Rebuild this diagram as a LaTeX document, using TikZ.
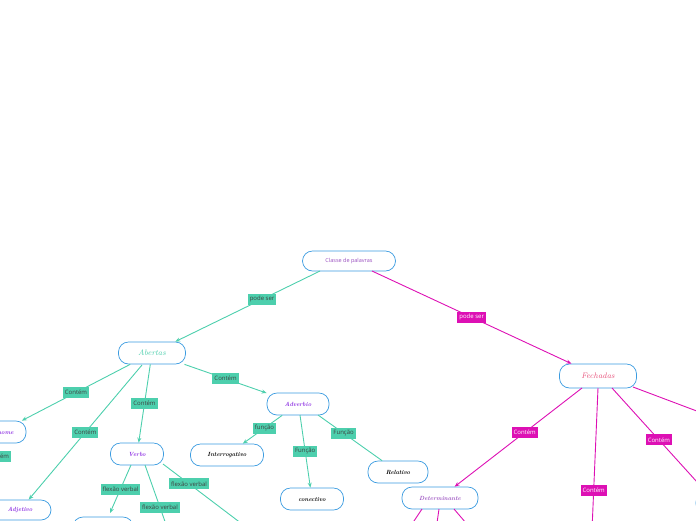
\documentclass[tikz,border=0pt]{standalone}
\usepackage{fontspec}
\setsansfont{Open Sans}
\usetikzlibrary{arrows.meta}
\definecolor{gr}{HTML}{4DCFAD}
\definecolor{mg}{HTML}{DD10B4}
\definecolor{bl}{HTML}{3A9BE0}
\definecolor{pu}{HTML}{9A4FC0}
\definecolor{vi}{HTML}{8A2BE2}
\definecolor{pk}{HTML}{E8507A}
\begin{document}
\begin{tikzpicture}[x=1pt,y=-1pt,
  box/.style={draw=bl,line width=0.7pt,rounded corners=10pt,fill=white,inner sep=0pt,font=\bfseries\itshape\fontsize{6}{7}\selectfont},
  glab/.style={fill=gr,text=black!75,font=\sffamily\fontsize{6}{7}\selectfont,inner sep=2pt,minimum height=11pt},
  mlab/.style={fill=mg,text=white,font=\sffamily\fontsize{6}{7}\selectfont,inner sep=2pt,minimum height=11pt},
  ge/.style={draw=gr,line width=0.9pt},
  me/.style={draw=mg,line width=0.9pt},
  ar/.style={-{Stealth[length=5pt,width=4pt]}}]
\path[use as bounding box] (0,0) rectangle (696,520);
\clip (0,0) rectangle (696,520);
% nodes
\node[box,minimum width=93pt,minimum height=20pt,font=\sffamily\fontsize{5.5}{6}\selectfont,text=pu] (cl) at (349,261) {Classe de palavras};
\node[box,minimum width=67pt,minimum height=22pt,text=gr,font=\itshape\fontsize{8}{9}\selectfont] (ab) at (152,353) {Abertas};
\node[box,minimum width=77pt,minimum height=24pt,text=pk,font=\itshape\fontsize{8}{9}\selectfont] (fe) at (598,376) {Fechadas};
\node[box,minimum width=52pt,minimum height=22pt,text=vi] (pr) at (0,432) {Pronome};
\node[box,minimum width=62pt,minimum height=20pt,text=vi] (adj) at (20,510) {Adjetivo};
\node[box,minimum width=53pt,minimum height=22pt,text=vi] (ve) at (137,454) {Verbo};
\node[box,minimum width=62pt,minimum height=22pt,text=vi] (adv) at (298,404) {Adverbio};
\node[box,minimum width=73pt,minimum height=22pt] (int) at (227,455) {Interrogativo};
\node[box,minimum width=63pt,minimum height=22pt] (con) at (312,499) {conectivo};
\node[box,minimum width=60pt,minimum height=22pt] (rel) at (398,472) {Relativo};
\node[box,minimum width=76pt,minimum height=22pt,text=pu] (det) at (440,498) {Determinante};
\node[box,minimum width=60pt,minimum height=22pt] (pes) at (103,528) {Pessoa};
\node[box,minimum width=40pt,minimum height=22pt] (rt) at (716,503) {};
% off-picture ends
\coordinate (v2) at (168,530);
\coordinate (v3) at (250,530);
\coordinate (f2) at (592,530);
\coordinate (f4) at (710,416);
\coordinate (d1) at (408,530);
\coordinate (d2) at (436,530);
\coordinate (d3) at (472,530);
% green edges
\draw[ge,ar] (320,271) -- node[glab,pos=0.4]{pode ser} (ab);
\draw[ge,ar] (ab) -- node[glab,pos=0.5]{Contém} (pr);
\draw[ge,ar] (142,365) -- node[glab,pos=0.5]{Contém} (adj);
\draw[ge,ar] (ab) -- node[glab,pos=0.5]{Contém} (ve);
\draw[ge,ar] (ab) -- node[glab,pos=0.5]{Contém} (adv);
\draw[ge,ar] (adv) -- node[glab,pos=0.45]{função} (int);
\draw[ge,ar] (300,415) -- node[glab,pos=0.5]{Função} (con);
\draw[ge] (318,415) -- node[glab,pos=0.4]{Função} (rel);
\draw[ge,ar] (131,465) -- node[glab,pos=0.5]{flexão verbal} (110,513);
\draw[ge] (145,465) -- node[glab,pos=0.65]{flexão verbal} (v2);
\draw[ge] (163,464) -- node[glab,pos=0.3]{flexão verbal} (v3);
\node[glab] at (-2,456) {Contém};
% magenta edges
\draw[me,ar] (372,271) -- node[mlab,pos=0.5]{pode ser} (fe);
\draw[me,ar] (582,388) -- node[mlab,pos=0.45]{Contém} (det);
\draw[me] (598,388) -- node[mlab,pos=0.72]{Contém} (f2);
\draw[me] (612,388) -- node[mlab,pos=0.5]{Contém} (rt);
\draw[me] (633,387) -- (f4);
\draw[me] (422,509) -- (d1);
\draw[me] (439,509) -- (d2);
\draw[me] (454,509) -- (d3);
\end{tikzpicture}
\end{document}
